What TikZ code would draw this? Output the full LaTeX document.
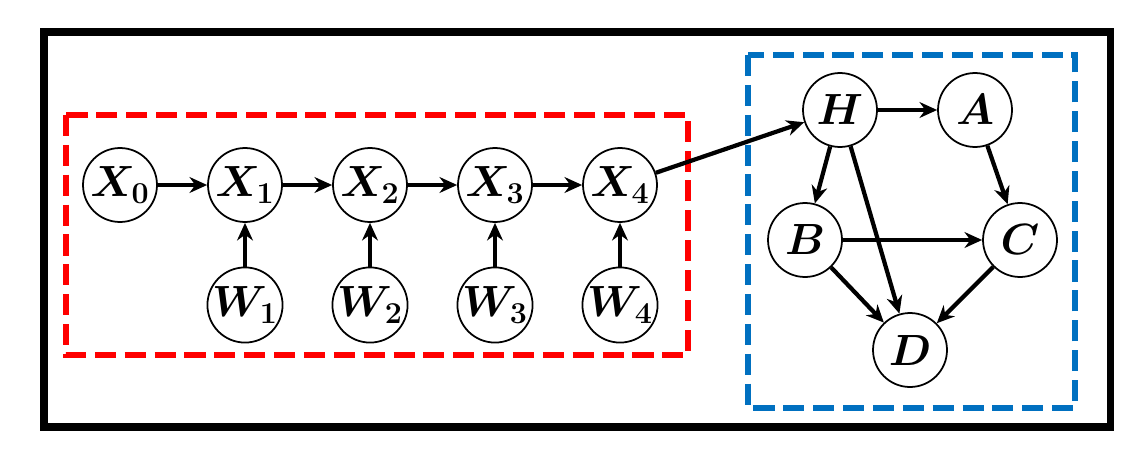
\documentclass[tikz,border=0pt]{standalone}
\usepackage{amsmath}
\usepackage{bm}
\usetikzlibrary{arrows.meta}
\definecolor{boxblue}{RGB}{0,112,192}
\begin{document}
\begin{tikzpicture}[x=0.02cm,y=-0.02cm]
                    \tikzset{state/.style={draw, shape=circle, line width=1pt, minimum size=1.48cm, inner sep=0pt, font=\fontsize{24}{28}\selectfont},
                             link/.style={-{Stealth[length=10pt,width=9pt]}, line width=2.4pt}}
                    \useasboundingbox (0,0) rectangle (1125,453);
                    \draw[line width=4pt] (44,32) rectangle (1110,427);
                    \draw[red, line width=3pt, dash pattern=on 12pt off 5pt] (66,115) rectangle (688,355);
                    \draw[boxblue, line width=3pt, dash pattern=on 12pt off 5pt] (748,55) rectangle (1075,408);

                    \node[state] (X0) at (120, 185) {$\bm{X_0}$};
                    \node[state] (X1) at (245, 185) {$\bm{X_1}$};
                    \node[state] (X2) at (370, 185) {$\bm{X_2}$};
                    \node[state] (X3) at (495, 185) {$\bm{X_3}$};
                    \node[state] (X4) at (620, 185) {$\bm{X_4}$};
                    \node[state] (W1) at (245, 305) {$\bm{W_1}$};
                    \node[state] (W2) at (370, 305) {$\bm{W_2}$};
                    \node[state] (W3) at (495, 305) {$\bm{W_3}$};
                    \node[state] (W4) at (620, 305) {$\bm{W_4}$};
                    \node[state] (H) at (840, 110) {$\bm{H}$};
                    \node[state] (A) at (975, 110) {$\bm{A}$};
                    \node[state] (B) at (805, 240) {$\bm{B}$};
                    \node[state] (C) at (1020, 240) {$\bm{C}$};
                    \node[state] (D) at (910, 350) {$\bm{D}$};

                    \path[link]
                        (X0) edge (X1)
                        (X1) edge (X2)
                        (X2) edge (X3)
                        (X3) edge (X4)
                        (W1) edge (X1)
                        (W2) edge (X2)
                        (W3) edge (X3)
                        (W4) edge (X4)
                        (X4) edge (H)
                        (H) edge (A)
                            edge (B)
                            edge (D)
                        (A) edge (C)
                        (B) edge (C)
                            edge (D)
                        (C) edge (D);
                \end{tikzpicture}
\end{document}
